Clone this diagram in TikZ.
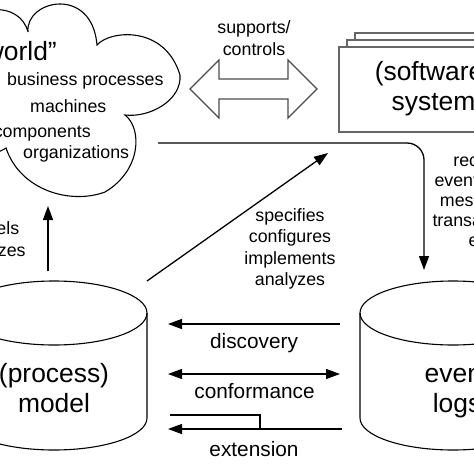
\documentclass[tikz,border=0pt]{standalone}
\usepackage{fontspec}
\setmainfont{Liberation Sans}
\usetikzlibrary{arrows.meta,positioning}

\begin{document}
\begin{tikzpicture}[x=1pt,y=-1pt,
  outline/.style={line width=1.1pt},
  link/.style={line width=1.3pt,-{Triangle[length=14pt,width=10pt]}},
  small/.style={font=\fontsize{17.8}{21.5}\selectfont,align=center,inner sep=0pt},
  mid/.style={font=\fontsize{20.8}{24}\selectfont,inner sep=0pt},
  big/.style={font=\fontsize{26.4}{30}\selectfont,align=center,inner sep=0pt},
  sysbox/.style={draw=black!60,line width=1.1pt,fill=white}]
  \useasboundingbox (0,0) rectangle (474,474);
  \clip (0,0) rectangle (474,474);
  % the world cloud
  \draw[outline] (28,32) .. controls (25,0) and (92,-15) .. (97,45)
    .. controls (110,30) and (165,25) .. (180,75)
    .. controls (182,100) and (150,118) .. (125,115)
    .. controls (142,128) and (142,170) .. (105,192)
    .. controls (70,205) and (20,190) .. (6,148)
    .. controls (-20,165) and (-70,150) .. (-70,100)
    .. controls (-70,60) and (-50,35) .. (-30,30)
    .. controls (-30,5) and (20,0) .. (28,32);
  \node[big,anchor=base east] (world) at (57,60) {“world”};
  \node[small,anchor=base west] (proc) at (7,85) {business processes};
  \node[small,anchor=base west] (mach) at (30,112) {machines};
  \node[small,anchor=base east] (comp) at (91,137) {components};
  \node[small,anchor=base west] (org) at (23,158) {organizations};
  % supports/controls
  \draw[draw=black!70,line width=1.1pt] (190,89) -- (219,60) -- (219,79) -- (288,79)
    -- (288,60) -- (317,89) -- (288,118) -- (288,99) -- (219,99) -- (219,118) -- cycle;
  \node[small,anchor=base] (supp) at (254,55) {supports/\\controls};
  % stacked system boxes
  \draw[sysbox] (355,33) rectangle (530,120);
  \draw[sysbox] (347,40) rectangle (525,125);
  \draw[sysbox] (339,47) rectangle (520,132);
  \node[big,anchor=base] (sys) at (433.5,110) {(software)\\system};
  \node[small,anchor=base,font=\fontsize{17.8}{20}\selectfont] (rec) at (483,246)
    {records\\events, e.g.,\\messages,\\transactions,\\etc.};
  % cylinders
  \draw[outline] (-39,313) -- (-39,418) arc (180:0:93 and 32) -- (147,313);
  \draw[outline] (54,313) ellipse [x radius=93,y radius=32];
  \node[big,anchor=base] (model) at (54,412) {(process)\\model};
  \draw[outline] (360,313) -- (360,418) arc (180:0:93 and 32) -- (546,313);
  \draw[outline] (453,313) ellipse [x radius=93,y radius=32];
  \node[big,anchor=base] (logs) at (457,412) {event\\logs};
  % connectors
  \coordinate (modeltop) at (48,271);
  \coordinate (cloudbot) at (48,206);
  \draw[link] (modeltop) -- (cloudbot);
  \node[small,anchor=base] (ma) at (-9.5,256) {models\\analyzes};
  \coordinate (modelrim) at (147,281);
  \coordinate (sysbot) at (328,153);
  \draw[link] (modelrim) -- (sysbot);
  \node[small,anchor=base] (spec) at (290,285.5) {specifies\\configures\\implements\\analyzes};
  \coordinate (cloudout) at (158,143);
  \coordinate (logstop) at (424,270);
  \draw[link,rounded corners=17pt] (cloudout) -| (logstop);
  % discovery, conformance, extension
  \coordinate (logsA) at (340,324);
  \coordinate (modelA) at (168,324);
  \draw[link] (logsA) -- (modelA);
  \node[mid,anchor=base] (disc) at (254,348) {discovery};
  \coordinate (logsB) at (340,374);
  \coordinate (modelB) at (168,374);
  \draw[link,{Triangle[length=14pt,width=10pt]}-{Triangle[length=14pt,width=10pt]}] (modelB) -- (logsB);
  \node[mid,anchor=base] (conf) at (254.5,398) {conformance};
  \coordinate (logsC) at (342,429);
  \coordinate (modelC) at (168,429);
  \coordinate (modelD) at (170,415);
  \coordinate (joinC) at (260,429);
  \draw[link] (logsC) -- (modelC);
  \draw[line width=1.3pt] (modelD) -| (joinC);
  \node[mid,anchor=base] (ext) at (254,456) {extension};
\end{tikzpicture}
\end{document}
